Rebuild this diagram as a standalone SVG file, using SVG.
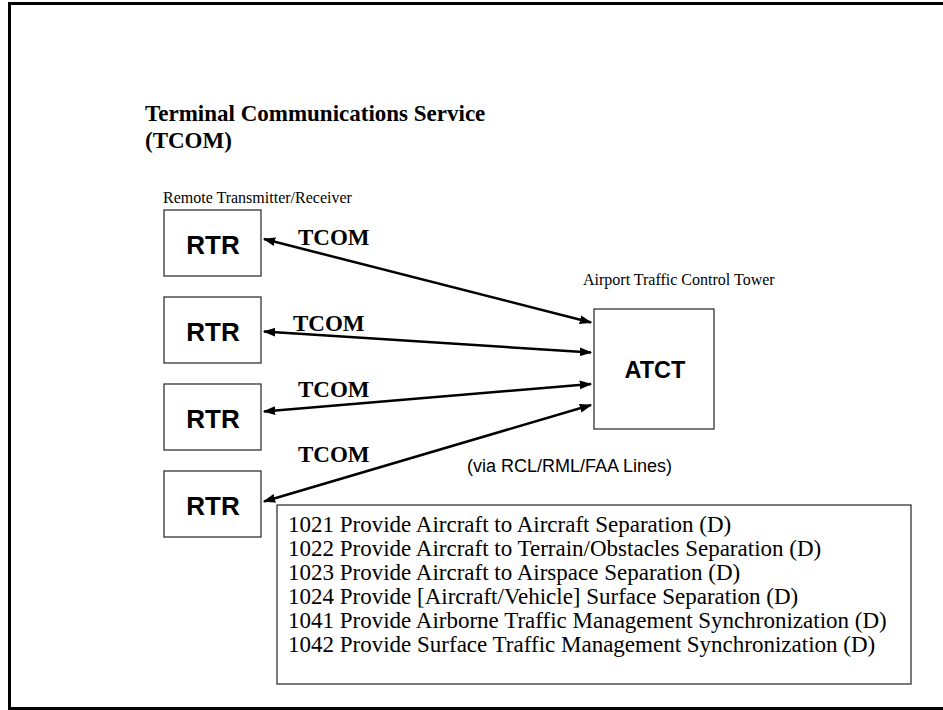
<svg xmlns="http://www.w3.org/2000/svg" width="943" height="710" viewBox="0 0 943 710">
<style>
.box{fill:#fff;stroke:#333;stroke-width:1.3}
.sans{font-family:"Liberation Sans",Arial,sans-serif;fill:#000}
.serif{font-family:"Liberation Serif","Times New Roman",serif;fill:#000}
.node{font-weight:bold;text-anchor:middle}
.lbl{font-size:16px}
.tcom{font-size:23px;font-weight:bold}
.func{font-size:23px}
.conn{stroke:#000;stroke-width:2.5;fill:none;marker-start:url(#ah);marker-end:url(#ah)}
</style>
<defs>
<marker id="ah" viewBox="0 0 10 10" refX="9" refY="5" markerWidth="5" markerHeight="5" orient="auto-start-reverse" markerUnits="strokeWidth">
<path d="M0,1.5 L10,5 L0,8.5 z" fill="#000"/>
</marker>
</defs>
<rect width="943" height="710" fill="#fff"/>
<path d="M9.5,710 V3.5 H943 M9.5,708.5 H943" fill="none" stroke="#000" stroke-width="3"/>
<g id="title">
<text class="serif" x="145" y="121" font-size="23" font-weight="bold">Terminal Communications Service</text>
<text class="serif" x="145" y="148" font-size="23" font-weight="bold">(TCOM)</text>
</g>
<text class="serif lbl" x="163" y="203">Remote Transmitter/Receiver</text>
<text class="serif lbl" x="583" y="285">Airport Traffic Control Tower</text>
<g id="connectors">
<line class="conn" x1="264" y1="239" x2="591" y2="322.5"/>
<line class="conn" x1="264" y1="331.5" x2="591" y2="352.5"/>
<line class="conn" x1="264" y1="411.5" x2="591" y2="384"/>
<line class="conn" x1="264" y1="501.5" x2="591" y2="405"/>
<text class="serif tcom" x="298" y="245">TCOM</text>
<text class="serif tcom" x="293" y="331">TCOM</text>
<text class="serif tcom" x="298" y="397">TCOM</text>
<text class="serif tcom" x="298" y="462">TCOM</text>
</g>
<g id="rtr1"><rect class="box" x="164" y="210" width="97" height="66"/><text class="sans node" x="213" y="254" font-size="26">RTR</text></g>
<g id="rtr2"><rect class="box" x="164" y="297" width="97" height="66"/><text class="sans node" x="213" y="341" font-size="26">RTR</text></g>
<g id="rtr3"><rect class="box" x="164" y="384" width="97" height="66"/><text class="sans node" x="213" y="428" font-size="26">RTR</text></g>
<g id="rtr4"><rect class="box" x="164" y="471" width="97" height="66"/><text class="sans node" x="213" y="515" font-size="26">RTR</text></g>
<g id="atct"><rect class="box" x="594" y="309" width="120" height="120"/><text class="sans node" x="655" y="378" font-size="23.5">ATCT</text></g>
<text class="sans" x="467" y="472" font-size="18">(via RCL/RML/FAA Lines)</text>
<g id="functions">
<rect class="box" x="277" y="505" width="634" height="179"/>
<text class="serif func" x="288" y="532">1021 Provide Aircraft to Aircraft Separation (D)</text>
<text class="serif func" x="288" y="556">1022 Provide Aircraft to Terrain/Obstacles Separation (D)</text>
<text class="serif func" x="288" y="580">1023 Provide Aircraft to Airspace Separation (D)</text>
<text class="serif func" x="288" y="604">1024 Provide [Aircraft/Vehicle] Surface Separation (D)</text>
<text class="serif func" x="288" y="628">1041 Provide Airborne Traffic Management Synchronization (D)</text>
<text class="serif func" x="288" y="652">1042 Provide Surface Traffic Management Synchronization (D)</text>
</g>
</svg>
